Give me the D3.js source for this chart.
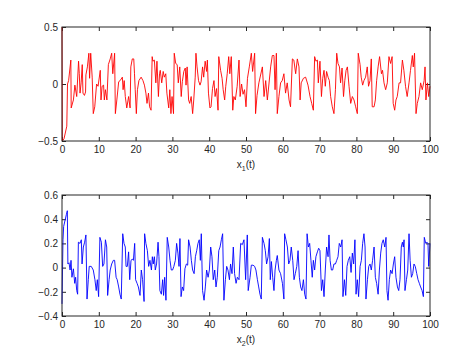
<!DOCTYPE html>
<html>
<head>
<meta charset="utf-8">
<script src="https://cdn.jsdelivr.net/npm/d3@7"></script>
<style>
  body { margin: 0; background: #fff; }
  text { font-family: "Liberation Sans", Arial, sans-serif; font-size: 10px; fill: #262626; }
</style>
</head>
<body>
<div id="fig"></div>
<script>
// x1(t) samples
const t1 = [0, 0.1, 0.55, 1.3, 1.5, 1.8, 2.4, 2.5, 3.1, 3.5, 4.0, 4.5, 4.7, 4.9, 5.2, 5.5, 5.7, 6.1, 6.4, 6.5, 6.9, 7.3, 7.5, 7.8, 8.2, 8.5, 8.9, 9.4, 9.8,
  10.4, 10.6, 10.9, 11.3, 11.5, 11.8, 12.2, 12.6, 13.1, 13.5, 13.8, 14.3, 14.5, 14.9, 15.4, 15.8, 16.4, 16.6, 16.9, 17.2, 17.6, 18.1, 18.5, 18.7, 19.1, 19.5, 19.7, 19.9,
  20.2, 20.5, 20.9, 21.5, 22, 22.4, 22.8, 23.1, 23.5, 23.8, 24.2, 24.5, 24.7, 25.1, 25.5, 25.8, 26.2, 26.5, 26.7, 27.1, 27.5, 27.8, 28.2, 28.5, 29, 29.3, 29.6, 29.9,
  30.3, 30.5, 30.9, 31.3, 31.6, 32, 32.4, 32.7, 33.1, 33.5, 33.7, 34, 34.4, 34.7, 35.1, 35.5, 35.8, 36.2, 36.4, 36.7, 37.1, 37.5, 37.8, 38.2, 38.5, 38.9, 39.3, 39.5, 39.8,
  40.2, 40.5, 40.9, 41.3, 41.6, 42, 42.4, 42.6, 43.1, 43.5, 43.8, 44.2, 44.5, 44.9, 45.3, 45.6, 46, 46.4, 46.7, 47.1, 47.6, 48.1, 48.4, 48.8, 49.2, 49.6,
  50.0, 50.4, 50.9, 51.45, 51.8, 52.35, 52.6, 53.0, 53.5, 54.45, 54.9, 55.35, 55.8, 56.7, 57.15, 57.6, 57.9, 58.25, 58.5, 58.95, 59.4, 59.85,
  60.3, 60.75, 61.2, 61.7, 62.1, 62.6, 63.0, 63.5, 63.95, 64.4, 64.7, 65.0, 65.6, 66.2, 66.85, 67.4, 67.85, 68.3, 68.65, 69.0, 69.4, 69.65,
  70.1, 70.5, 70.85, 71.2, 71.55, 71.9, 72.3, 72.65, 73.0, 73.45, 73.9, 74.3, 74.65, 75.0, 75.4, 75.7, 76.1, 76.5, 76.85, 77.2, 77.55, 78.0, 78.45, 78.9, 79.35, 79.8,
  80.25, 80.5, 81.0, 81.3, 81.7, 82.05, 82.5, 82.95, 83.3, 83.7, 84.05, 84.3, 84.8, 85.15, 85.5, 85.9, 86.3, 86.8, 87.1, 87.5, 87.95, 88.4, 88.85, 89.3, 89.7,
  90.0, 90.4, 90.75, 91.1, 91.6, 92.0, 92.5, 92.9, 93.35, 93.8, 94.3, 94.7, 95.2, 95.45, 95.8, 96.2, 96.55, 97.0, 97.45, 97.9, 98.4, 98.65, 98.9, 99.3, 99.65, 100];
const x1 = [0.5, -0.5, -0.48, -0.37, 0, 0.03, 0.21, -0.21, -0.14, -0.01, -0.11, 0.2, 0.09, -0.08, 0.01, 0.17, -0.08, -0.1, -0.07, 0.08, 0.15, 0.27, 0.05, 0.27, 0.06, -0.26, -0.2, 0, -0.02,
  0.12, -0.14, -0.02, -0.01, -0.14, -0.05, -0.14, 0.17, 0.22, 0.27, 0.09, 0.27, -0.26, -0.14, 0.02, 0.03, 0.06, -0.05, 0.03, -0.11, -0.21, -0.11, -0.21, 0.15, 0.22, 0.22, 0.09, -0.05,
  -0.26, -0.05, 0.03, 0.06, 0.03, -0.01, -0.08, -0.17, -0.08, -0.2, -0.23, 0.24, 0.2, 0.21, 0.01, 0.2, -0.11, 0.09, 0.12, 0.01, 0.11, 0.06, 0.09, -0.08, -0.21, -0.05, -0.26, -0.11,
  -0.26, 0.27, 0.18, 0.17, 0.01, 0.15, -0.11, 0.02, 0.11, 0.14, -0.01, 0.15, -0.14, -0.17, -0.11, -0.26, -0.14, 0.06, 0.27, 0.15, 0.03, -0.01, 0.02, 0.15, 0.06, 0.2, 0.11, 0.21, -0.08,
  -0.21, -0.2, -0.04, 0.03, -0.11, -0.04, -0.23, 0.24, 0.12, 0.05, -0.05, -0.14, -0.02, 0.09, 0.24, 0.09, 0.24, -0.23, -0.11, -0.14, -0.02, 0.21, -0.11, 0.0, -0.09, -0.05,
  -0.2, 0.05, 0.15, 0.27, 0.11, 0.27, -0.26, -0.1, 0.01, 0.15, -0.11, 0.03, -0.14, 0.15, 0.25, 0.25, -0.05, 0.27, -0.26, -0.11, 0.01, 0.03,
  0.09, -0.08, 0.01, -0.14, -0.2, 0.22, 0.21, 0.09, 0.22, 0.15, -0.14, 0.01, 0.05, 0.06, -0.01, -0.11, -0.17, -0.23, 0.24, 0.2, 0.21, 0.01,
  0.2, -0.11, 0.05, 0.12, -0.02, 0.11, 0.06, 0.03, -0.11, -0.2, -0.26, -0.05, 0.27, 0.18, 0.15, 0.01, 0.14, -0.11, 0.03, 0.12, 0.15, -0.02, -0.17, -0.11, -0.14, -0.2,
  -0.26, 0.27, 0.17, 0.06, -0.01, 0.03, 0.06, 0.15, -0.02, 0.03, 0.22, -0.2, -0.2, -0.14, 0.03, 0.15, 0.24, 0.09, 0.12, 0.01, -0.05, 0.01, 0.24, 0.18, 0.24,
  -0.17, -0.23, -0.14, -0.11, 0.01, 0.01, 0.21, 0.12, -0.02, -0.11, 0.01, 0.12, 0.25, 0.15, 0.27, -0.26, -0.17, -0.11, 0.01, -0.05, 0.03, 0.15, -0.14, 0.01, -0.11, -0.02];

// x2(t) samples
const t2 = [0, 0.27, 0.45, 0.9, 1.2, 1.45, 1.6, 1.9, 2.2, 2.45, 2.7, 3.1, 3.45, 3.7, 4.0, 4.25, 4.45, 4.9, 5.25, 5.45, 5.8, 6.15, 6.5, 6.8, 7.15, 7.4, 7.95, 8.5, 8.95, 9.3, 9.6, 9.95,
  10.3, 10.7, 11.05, 11.4, 11.8, 12.15, 12.4, 12.8, 13.1, 13.5, 13.95, 14.3, 14.7, 15.0, 15.4, 15.75, 16.1, 16.5, 16.85, 17.2, 17.4, 17.75, 18.1, 18.4, 18.75, 19.1, 19.4, 19.75,
  20.0, 20.4, 20.75, 21.2, 21.55, 21.9, 22.3, 22.45, 22.8, 23.2, 23.55, 23.9, 24.3, 24.55, 24.8, 25.1, 25.35, 25.7, 26.1, 26.35, 26.6, 27.0, 27.35, 27.6, 27.9, 28.25, 28.6, 29.0, 29.35, 29.7,
  30.05, 30.4, 30.8, 31.15, 31.5, 31.8, 32.05, 32.35, 32.7, 33.05, 33.4, 33.8, 34.15, 34.4, 34.8, 35.15, 35.5, 35.9, 36.25, 36.6, 36.95, 37.3, 37.6, 37.85, 38.2, 38.6, 38.95, 39.3, 39.7,
  40.05, 40.4, 40.75, 41.1, 41.5, 41.85, 42.2, 42.6, 42.95, 43.3, 43.65, 44.0, 44.4, 44.75, 45.1, 45.5, 45.8, 46.2, 46.55, 46.9, 47.3, 47.65, 48.1, 48.55, 49.0, 49.45, 49.9,
  50.35, 50.6, 51.1, 51.45, 51.9, 52.35, 52.7, 53.1, 53.45, 53.8, 54.15, 54.45, 54.9, 55.25, 55.6, 56.0, 56.35, 56.6, 56.9, 57.25, 57.6, 57.9, 58.25, 58.5, 58.95, 59.4, 59.9,
  60.3, 60.5, 60.85, 61.25, 61.6, 61.95, 62.3, 62.7, 63.05, 63.4, 63.8, 64.15, 64.5, 64.85, 65.2, 65.6, 65.95, 66.3, 66.6, 66.95, 67.3, 67.65, 68.0, 68.3, 68.65, 69.0, 69.4, 69.75,
  70.1, 70.5, 70.85, 71.2, 71.55, 71.9, 72.3, 72.55, 72.85, 73.2, 73.55, 73.9, 74.3, 74.65, 75.0, 75.35, 75.75, 76.1, 76.35, 76.75, 77.1, 77.45, 77.8, 78.2, 78.55, 78.9, 79.25, 79.6, 79.9,
  80.25, 80.6, 81.0, 81.35, 81.7, 82.05, 82.35, 82.6, 83.0, 83.35, 83.7, 84.05, 84.4, 84.8, 85.15, 85.5, 85.9, 86.25, 86.6, 86.95, 87.3, 87.7, 88.05, 88.3, 88.6, 88.95, 89.3, 89.7,
  90.05, 90.4, 90.75, 91.15, 91.5, 91.85, 92.2, 92.5, 92.75, 92.95, 93.2, 93.6, 93.95, 94.3, 94.6, 94.95, 95.3, 95.65, 96.0, 96.4, 96.75, 97.1, 97.45, 97.85, 98.2, 98.45, 98.85, 99.2, 99.45, 99.65, 100];
const x2 = [-0.3, 0.23, 0.34, 0.4, 0.44, 0.47, 0.03, 0.04, -0.02, 0.06, -0.08, -0.01, -0.13, -0.08, -0.19, -0.22, 0.21, 0.2, 0.23, 0.03, 0.17, 0.21, 0.27, -0.26, -0.1, 0.01, 0.01, -0.02, -0.1, -0.19, -0.1, -0.24,
  0.25, 0.21, 0.01, 0.03, 0.23, 0.17, -0.23, -0.1, -0.02, 0.03, 0.06, 0.06, -0.08, -0.1, -0.16, -0.22, -0.26, 0.28, 0.2, 0.17, 0.01, 0.01, 0.13, -0.1, 0.06, 0.07, 0.06, 0.2,
  -0.1, -0.13, -0.16, -0.23, -0.02, -0.1, -0.28, 0.28, 0.2, 0.14, 0.01, 0.06, -0.02, 0.09, 0.03, 0.09, -0.02, 0.03, 0.21, 0.09, -0.19, -0.22, -0.1, -0.23, -0.08, -0.27, 0.25, 0.17, 0.06, -0.02,
  -0.02, 0.01, 0.06, 0.2, 0.12, 0.01, 0.24, -0.24, -0.16, -0.19, -0.01, 0.03, 0.02, 0.23, 0.17, 0.06, -0.02, -0.05, 0.09, 0.14, 0.2, 0.23, 0.06, 0.28, -0.19, -0.27, -0.16, -0.02, -0.08,
  -0.02, 0.17, 0.09, -0.1, -0.02, -0.16, -0.08, 0.14, 0.17, 0.23, 0.28, -0.27, -0.1, 0.01, -0.02, -0.1, 0.03, -0.05, 0.17, -0.05, -0.13, -0.08, -0.1, 0.2, 0.19, 0.23, -0.1,
  0.27, -0.19, -0.08, 0.02, 0.02, 0.01, -0.02, -0.1, -0.16, -0.22, -0.26, 0.25, 0.2, 0.14, 0.03, 0.09, 0.24, -0.1, 0.05, -0.08, -0.19, -0.02, 0.06, 0.1, -0.02, -0.05, -0.13,
  -0.26, 0.28, 0.23, 0.17, 0.03, 0.06, 0.17, 0.06, -0.1, -0.05, 0.01, 0.14, -0.08, -0.16, -0.19, -0.1, -0.22, -0.26, 0.28, 0.17, 0.2, 0.06, -0.08, 0.06, -0.02, 0.09, 0.13, 0.16,
  0.14, -0.19, -0.1, -0.24, -0.02, 0.17, 0.09, 0.27, 0.06, -0.02, -0.02, 0.03, 0.03, 0.06, 0.09, 0.2, 0.17, 0.23, -0.24, -0.1, -0.23, 0.01, 0.06, 0.09, -0.04, 0.12, 0.03, 0.23, -0.22,
  -0.1, -0.24, 0.01, 0.06, 0.2, 0.28, 0.17, -0.26, -0.1, 0.01, 0.03, -0.02, 0.06, 0.17, -0.08, -0.13, -0.22, -0.02, 0.12, 0.2, 0.23, 0.17, 0.25, -0.19, -0.27, -0.1, -0.02, -0.05,
  0.03, 0.09, -0.08, -0.16, -0.19, -0.1, 0.17, 0.21, 0.17, 0.23, -0.19, -0.1, -0.02, 0.28, 0.06, -0.08, -0.05, 0.03, 0.01, -0.05, -0.1, -0.13, -0.16, -0.19, -0.24, 0.25, 0.2, 0.21, 0.2, 0.01, 0.2];

const xTicks = [0, 10, 20, 30, 40, 50, 60, 70, 80, 90, 100];
const y1Ticks = [-0.5, 0, 0.5];
const y2Ticks = [-0.4, -0.2, 0, 0.2, 0.4, 0.6];

const W = 474, H = 355;
const svg = d3.select("#fig").append("svg")
  .attr("width", W).attr("height", H);

const left = 62, right = 430, tickLen = 4;

function panel(top, bottom, ts, vs, yDomain, yTicks, color, sub) {
  const x = d3.scaleLinear().domain([0, 100]).range([left, right]);
  const y = d3.scaleLinear().domain(yDomain).range([bottom, top]);
  const g = svg.append("g");

  // ticks pointing in, on all four sides (matlab box style)
  g.append("g").attr("transform", `translate(0,${bottom})`)
    .call(d3.axisBottom(x).tickValues(xTicks).tickSize(-tickLen).tickPadding(5).tickFormat(d3.format("d")));
  g.append("g").attr("transform", `translate(0,${top})`)
    .call(d3.axisTop(x).tickValues(xTicks).tickSize(-tickLen).tickFormat(""));
  g.append("g").attr("transform", `translate(${left},0)`)
    .call(d3.axisLeft(y).tickValues(yTicks).tickSize(-tickLen).tickPadding(4).tickFormat(d => d === 0 ? "0" : d3.format("")(d)));
  g.append("g").attr("transform", `translate(${right},0)`)
    .call(d3.axisRight(y).tickValues(yTicks).tickSize(-tickLen).tickFormat(""));

  g.selectAll(".domain").remove();
  g.selectAll(".tick line").attr("stroke", "#262626");
  g.selectAll(".tick text").attr("fill", "#262626").style("font-size", "10px");

  const data = ts.map((t, i) => [t, vs[i]]);
  g.append("path")
    .datum(data)
    .attr("fill", "none")
    .attr("stroke", color)
    .attr("stroke-width", 0.9)
    .attr("d", d3.line().x(d => x(d[0])).y(d => y(d[1])));

  g.append("rect")
    .attr("x", left).attr("y", top)
    .attr("width", right - left).attr("height", bottom - top)
    .attr("fill", "none").attr("stroke", "#262626").attr("stroke-width", 1);

  const lbl = g.append("text")
    .attr("x", (left + right) / 2)
    .attr("y", bottom + 27)
    .attr("text-anchor", "middle");
  lbl.append("tspan").text("x");
  lbl.append("tspan").attr("dy", 3).style("font-size", "7px").text(sub);
  lbl.append("tspan").attr("dy", -3).text("(t)");
}

panel(27, 141, t1, x1, [-0.5, 0.5], y1Ticks, "#ff0000", "1");
panel(195, 316, t2, x2, [-0.4, 0.6], y2Ticks, "#0000ff", "2");
</script>
</body>
</html>
